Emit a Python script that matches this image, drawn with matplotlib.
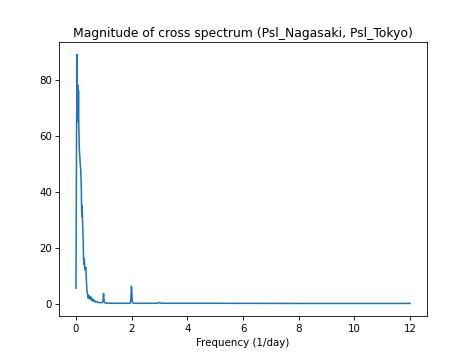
import matplotlib
matplotlib.use('Agg')
import matplotlib.pyplot as plt

# frequency (1/day) and |cross spectrum|
freq = [0.0, 0.02, 0.04, 0.05, 0.06, 0.07, 0.08, 0.09, 0.10, 0.11, 0.12,
        0.14, 0.15, 0.17, 0.19, 0.20, 0.21, 0.22, 0.24, 0.26, 0.27, 0.28,
        0.30, 0.31, 0.33, 0.35, 0.37, 0.39, 0.41, 0.43, 0.45, 0.47, 0.50,
        0.52, 0.55, 0.58, 0.60, 0.63, 0.66, 0.70, 0.75, 0.80, 0.85, 0.90,
        0.95, 0.97, 0.99, 1.00, 1.02, 1.05, 1.10, 1.3, 1.6, 1.9, 1.95,
        1.97, 1.99, 2.00, 2.02, 2.05, 2.1, 2.5, 2.9, 2.97, 3.0, 3.03,
        3.1, 5.0, 8.0, 12.0]
mag = [5.5, 60.0, 89.0, 70.0, 65.0, 78.0, 66.0, 76.0, 64.0, 60.0, 55.0,
       52.0, 50.0, 48.0, 42.0, 35.0, 31.0, 35.0, 28.0, 22.0, 16.5, 14.0,
       16.0, 13.0, 12.0, 13.0, 9.0, 5.0, 3.6, 2.0, 3.0, 1.8, 2.6,
       1.5, 2.2, 1.0, 1.6, 0.8, 1.2, 0.5, 0.7, 0.3, 0.4, 0.3,
       0.4, 1.0, 3.6, 2.0, 0.4, 0.2, 0.15, 0.1, 0.1, 0.1, 0.2,
       1.5, 6.2, 5.5, 0.8, 0.2, 0.1, 0.1, 0.1, 0.2, 0.4, 0.2,
       0.1, 0.1, 0.05, 0.05]

fig = plt.figure(figsize=(6.4, 4.8), dpi=74.1)
ax = fig.add_subplot(111)
ax.plot(freq, mag)
ax.set_xlabel('Frequency (1/day)')
ax.set_title('Magnitude of cross spectrum (Psl_Nagasaki, Psl_Tokyo)')
plt.savefig('out.png')
plt.close('all')
